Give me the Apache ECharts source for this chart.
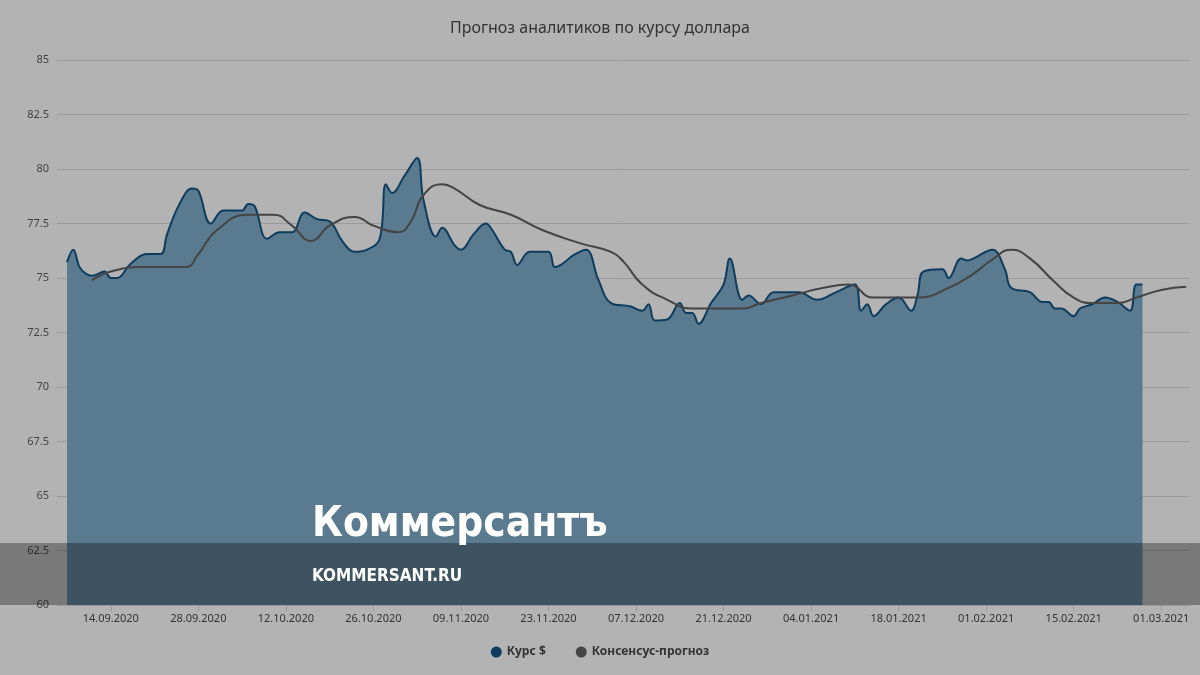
<!DOCTYPE html>
<html><head><meta charset="utf-8">
<script src="https://cdn.jsdelivr.net/npm/echarts@6/dist/echarts.min.js"></script>
<style>html,body{margin:0;padding:0;background:#b3b3b3}#c{width:1200px;height:675px}</style>
</head><body><div id="c"></div>
<script>
const kursDates = ['2020-09-07','2020-09-08','2020-09-09','2020-09-10','2020-09-11','2020-09-13','2020-09-14','2020-09-15','2020-09-17','2020-09-19','2020-09-20','2020-09-22','2020-09-23','2020-09-25','2020-09-27','2020-09-28','2020-09-30','2020-10-02','2020-10-05','2020-10-06','2020-10-07','2020-10-09','2020-10-11','2020-10-13','2020-10-15','2020-10-17','2020-10-19','2020-10-21','2020-10-23','2020-10-25','2020-10-27','2020-10-28','2020-10-29','2020-10-31','2020-11-02','2020-11-03','2020-11-05','2020-11-06','2020-11-08','2020-11-09','2020-11-11','2020-11-13','2020-11-14','2020-11-16','2020-11-17','2020-11-18','2020-11-20','2020-11-23','2020-11-24','2020-11-25','2020-11-27','2020-11-29','2020-12-01','2020-12-03','2020-12-06','2020-12-08','2020-12-09','2020-12-10','2020-12-12','2020-12-14','2020-12-15','2020-12-16','2020-12-17','2020-12-19','2020-12-21','2020-12-22','2020-12-24','2020-12-25','2020-12-27','2020-12-29','2021-01-02','2021-01-05','2021-01-08','2021-01-11','2021-01-12','2021-01-13','2021-01-14','2021-01-16','2021-01-18','2021-01-20','2021-01-21','2021-01-22','2021-01-25','2021-01-26','2021-01-28','2021-01-29','2021-01-30','2021-02-02','2021-02-04','2021-02-05','2021-02-08','2021-02-10','2021-02-11','2021-02-12','2021-02-13','2021-02-15','2021-02-16','2021-02-18','2021-02-20','2021-02-22','2021-02-24','2021-02-25','2021-02-26'];
const kursValues = [75.73,76.3,75.5,75.2,75.1,75.3,75.0,75.0,75.6,76.05,76.1,76.1,77.0,78.4,79.1,79.0,77.5,78.1,78.1,78.4,78.3,76.8,77.1,77.1,78.0,77.7,77.6,76.7,76.2,76.3,76.8,79.3,78.9,79.7,80.5,78.6,76.9,77.3,76.5,76.3,77.0,77.5,77.2,76.3,76.2,75.6,76.2,76.2,75.5,75.6,76.05,76.3,74.9,73.85,73.7,73.5,73.8,73.05,73.1,73.85,73.4,73.4,72.9,73.85,74.7,75.9,74.0,74.2,73.8,74.35,74.35,74.0,74.35,74.7,73.5,73.8,73.25,73.8,74.1,73.5,74.2,75.3,75.4,75.0,75.9,75.8,75.9,76.3,75.4,74.55,74.35,73.9,73.9,73.6,73.6,73.25,73.6,73.8,74.1,73.9,73.5,74.7,74.7];
const consDates = ['2020-09-11','2020-09-14','2020-09-19','2020-09-26','2020-09-28','2020-10-01','2020-10-06','2020-10-10','2020-10-13','2020-10-16','2020-10-19','2020-10-23','2020-10-26','2020-10-30','2020-11-01','2020-11-03','2020-11-06','2020-11-08','2020-11-12','2020-11-17','2020-11-22','2020-11-28','2020-12-03','2020-12-05','2020-12-08','2020-12-12','2020-12-16','2020-12-24','2020-12-27','2021-01-01','2021-01-06','2021-01-10','2021-01-14','2021-01-21','2021-01-26','2021-01-30','2021-02-02','2021-02-05','2021-02-08','2021-02-12','2021-02-15','2021-02-18','2021-02-22','2021-02-25','2021-03-01','2021-03-05'];
const consValues = [74.9,75.3,75.5,75.5,76.1,77.2,77.9,77.9,77.4,76.7,77.4,77.8,77.4,77.1,77.6,78.8,79.3,79.1,78.35,77.9,77.2,76.6,76.2,75.75,74.7,74.0,73.6,73.6,73.85,74.2,74.55,74.7,74.1,74.1,74.55,75.2,75.85,76.3,75.9,74.8,74.1,73.85,73.85,74.1,74.45,74.6];
const tickDates = ['2020-09-14','2020-09-28','2020-10-12','2020-10-26','2020-11-09','2020-11-23','2020-12-07','2020-12-21','2021-01-04','2021-01-18','2021-02-01','2021-02-15','2021-03-01'];

const BASE = Date.UTC(2020,8,14);
const day = d => (new Date(d + 'T00:00:00Z').getTime() - BASE) / 864e5;
const pad = n => String(n).padStart(2,'0');
const fmt = v => { const d = new Date(BASE + Math.round(v) * 864e5); return pad(d.getUTCDate())+'.'+pad(d.getUTCMonth()+1)+'.'+d.getUTCFullYear(); };
const ticks = tickDates.map(day);
const chart = echarts.init(document.getElementById('c'));
chart.setOption({
  backgroundColor:'#b3b3b3',
  animation:false,
  title:{text:'Прогноз аналитиков по курсу доллара',left:'center',top:15,
    textStyle:{fontFamily:'Noto Sans',fontSize:16,fontWeight:'normal',color:'#333'}},
  legend:{bottom:12,left:'center',icon:'circle',itemWidth:11,itemHeight:11,itemGap:30,
    textStyle:{fontFamily:'Noto Sans',fontSize:12,fontWeight:'bold',color:'#333'},
    data:['Курс $','Консенсус-прогноз']},
  grid:{left:57,right:10,top:60,bottom:70},
  xAxis:{type:'value',min:-8.6,max:172.6,
    axisLine:{lineStyle:{color:'#999'}},
    axisTick:{customValues:ticks,length:6,lineStyle:{color:'#999'}},
    axisLabel:{customValues:ticks,color:'#333',fontFamily:'Noto Sans',fontSize:11,formatter:fmt},
    splitLine:{show:false}},
  yAxis:{type:'value',min:60,max:85,interval:2.5,
    axisLine:{show:false},axisTick:{show:false},
    axisLabel:{color:'#444',fontFamily:'Noto Sans',fontSize:11},
    splitLine:{lineStyle:{color:'#9a9a9a',width:1}}},
  series:[
    {name:'Курс $',type:'line',smooth:0.4,symbol:'none',
     data:kursDates.map((d,i)=>[day(d),kursValues[i]]),
     lineStyle:{color:'#0d3c5e',width:2},itemStyle:{color:'#0d3c5e'},
     areaStyle:{color:'#5a7b8f',opacity:1}},
    {name:'Консенсус-прогноз',type:'line',smooth:0.5,symbol:'none',
     data:consDates.map((d,i)=>[day(d),consValues[i]]),
     lineStyle:{color:'#444',width:2},itemStyle:{color:'#444'}}
  ],
  graphic:[
    {type:'rect',shape:{x:0,y:543,width:1200,height:62},style:{fill:'rgba(0,0,0,0.32)'},z:100},
    {type:'text',left:312,top:504,style:{text:'Коммерсантъ',fill:'#fff',font:'bold 42px "DejaVu Sans Condensed"'},z:101},
    {type:'text',left:312,top:568,style:{text:'KOMMERSANT.RU',fill:'#fff',font:'bold 17px "DejaVu Sans Condensed"'},z:101}
  ]
});
</script></body></html>
